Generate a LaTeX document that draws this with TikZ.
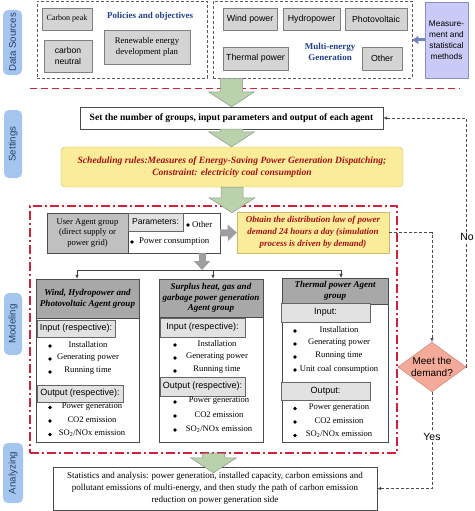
\documentclass[tikz,border=0pt]{standalone}
\usepackage{fontspec}
\setmainfont{Liberation Serif}
\setsansfont{Liberation Sans}
\usetikzlibrary{shapes.geometric, arrows.meta, calc}

\definecolor{sepred}{RGB}{206,34,58}
\definecolor{sideblue}{RGB}{164,198,238}
\definecolor{sidetext}{RGB}{38,62,104}
\definecolor{titleblue}{RGB}{32,64,140}
\definecolor{srcgray}{RGB}{212,212,212}
\definecolor{lavender}{RGB}{202,202,246}
\definecolor{lavdraw}{RGB}{140,140,200}
\definecolor{measarrow}{RGB}{112,132,184}
\definecolor{rulefill}{RGB}{250,236,152}
\definecolor{ruledraw}{RGB}{204,184,112}
\definecolor{rulered}{RGB}{168,18,22}
\definecolor{greenfill}{RGB}{186,210,172}
\definecolor{greendraw}{RGB}{138,152,138}
\definecolor{hdgray}{RGB}{168,168,168}
\definecolor{usergray}{RGB}{192,192,192}
\definecolor{iogray}{RGB}{226,226,226}
\definecolor{decfill}{RGB}{244,170,152}
\definecolor{decdraw}{RGB}{196,124,112}

\newcommand{\fsz}[2]{\fontsize{#1}{#2}\selectfont}
% green block arrow from tail to tip (vertical)
\newcommand{\garrow}[2]{%
  \filldraw[garrowst] let \p1=(#1), \p2=(#2) in
    (\x1-11pt,\y1) -- (\x1-11pt,\y2+15pt) -- (\x1-23pt,\y2+15pt) -- (\x1,\y2)
    -- (\x1+23pt,\y2+15pt) -- (\x1+11pt,\y2+15pt) -- (\x1+11pt,\y1) -- cycle;}

\begin{document}
\begin{tikzpicture}[
    x=1pt, y=-1pt,
    >={Latex[length=4pt,width=3.5pt]},
    sidelbl/.style={rounded corners=5pt, fill=sideblue, text=sidetext, rotate=90, inner sep=0pt, font=\sffamily\fsz{9.7}{11}},
    srcframe/.style={draw=black!65, densely dashed, line width=0.7pt},
    srcbox/.style={draw=black!50, fill=srcgray, inner sep=1pt, align=center, font=\sffamily\fsz{8.8}{11}},
    srcboxrm/.style={srcbox, font=\fsz{8.7}{10.5}},
    srctitle/.style={text=titleblue, align=center, font=\bfseries\fsz{9}{11.5}},
    flowbox/.style={draw=black!70, fill=white, align=center, font=\bfseries\fsz{9.6}{11}},
    rulebox/.style={draw=ruledraw, fill=rulefill, text=rulered, align=center, font=\bfseries\itshape\fsz{9.6}{11.5}},
    modframe/.style={draw=sepred, line width=1.1pt, dash pattern=on 9pt off 3pt on 2pt off 3pt},
    agentbox/.style={draw=black!70, fill=white},
    agenthd/.style={draw=black!70, fill=hdgray, align=center, font=\bfseries\itshape\fsz{9}{10.8}},
    iobox/.style={draw=black!60, fill=iogray, inner sep=1pt, font=\sffamily\fsz{9}{10}},
    bul/.style={circle, fill=black, inner sep=0pt, minimum size=3.6pt},
    itm/.style={inner sep=0pt, font=\fsz{8.6}{10}},
    decision/.style={diamond, draw=decdraw, fill=decfill, aspect=1.38, inner sep=0pt, align=center, minimum width=65pt, minimum height=47pt, font=\sffamily\fsz{10}{12}},
    loopline/.style={densely dashed, draw=black!70, line width=0.6pt},
    lbl/.style={fill=white, inner sep=1pt, font=\sffamily\fsz{10.5}{12}},
    garrowst/.style={fill=greenfill, draw=greendraw, line width=0.5pt},
    gblock/.style={line width=7pt, draw=black!38, -{Triangle[width=16pt,length=9pt]}}
]
    \useasboundingbox (0,0) rectangle (474,511);

    % Side labels
    \node[sidelbl, minimum width=65pt, minimum height=19pt] (lbldata) at (12.5,42.5) {Data Sources};
    \node[sidelbl, minimum width=68pt, minimum height=18pt] (lblset) at (13,144) {Settings};
    \node[sidelbl, minimum width=62pt, minimum height=18pt] (lblmod) at (13,324) {Modeling};
    \node[sidelbl, minimum width=60pt, minimum height=20pt] (lblana) at (13,473) {Analyzing};

    % Data sources: policies
    \node[srcframe, minimum width=170pt, minimum height=77pt] (polbox) at (122,39.5) {};
    \node[srcboxrm, minimum width=50pt, minimum height=22pt, font=\fsz{8}{10}] (peak) at (67,19) {Carbon peak};
    \node[srcbox, minimum width=48pt, minimum height=32pt, font=\sffamily\fsz{8.6}{11}] (neutral) at (68,56) {carbon\\neutral};
    \node[srcboxrm, minimum width=86pt, minimum height=34pt] (renew) at (147,47) {Renewable energy\\development plan};
    \node[srctitle] (poltitle) at (150,16) {Policies and objectives};

    % Data sources: multi-energy generation
    \node[srcframe, minimum width=199pt, minimum height=77pt] (genbox) at (312.5,39.5) {};
    \node[srcbox, minimum width=54pt, minimum height=22pt] (wind) at (250,19) {Wind power};
    \node[srcbox, minimum width=57pt, minimum height=22pt] (hydro) at (311.5,19) {Hydropower};
    \node[srcbox, minimum width=62pt, minimum height=22pt] (pv) at (376,19) {Photovoltaic};
    \node[srcbox, minimum width=65pt, minimum height=23pt] (thermsrc) at (255.5,58.5) {Thermal power};
    \node[srcbox, minimum width=40pt, minimum height=23pt] (othersrc) at (382,58.5) {Other};
    \node[srctitle] (gentitle) at (330,52) {Multi-energy\\Generation};

    \node[draw=lavdraw, fill=lavender, align=center, inner sep=0pt, minimum width=43pt, minimum height=76pt, font=\sffamily\fsz{8.3}{11}] (measure) at (446.5,40) {Measure-\\ment and\\statistical\\methods};
    \draw[line width=3pt, draw=measarrow, -{Triangle[width=8pt,length=6pt]}] (measure.west) -- (genbox.east |- measure.west);

    \draw[sepred, line width=1pt, dash pattern=on 7pt off 4pt] (30,88) -- (460,88);

    % Settings
    \node[flowbox, minimum width=303pt, minimum height=22pt] (setbox) at (231.5,118) {Set the number of groups, input parameters and output of each agent};
    \node[rulebox, rounded corners=4pt, minimum width=342pt, minimum height=40pt] (schedbox) at (232,167) {Scheduling rules:Measures of Energy-Saving Power Generation Dispatching;\\Constraint: electricity coal consumption};

    \garrow{genbox.south -| setbox.north}{setbox.north}
    \garrow{setbox.south}{schedbox.north}

    % Modeling
    \node[modframe, minimum width=367pt, minimum height=247pt] (modbox) at (213.5,329.5) {};
    \node[draw=black!70, fill=usergray, align=center, inner sep=0pt, minimum width=81pt, minimum height=40pt, font=\fsz{8.6}{10.5}] (user) at (87.5,233) {User Agent group\\(direct supply or\\power grid)};
    \node[draw=black!70, fill=white, minimum width=92pt, minimum height=40pt] (param) at (174,233) {};
    \node[iobox, minimum width=55pt, minimum height=18pt, font=\sffamily\fsz{8.6}{10}] (paramlbl) at (155.5,222) {Parameters:};
    \node[bul] (pb1) at (188,225) {};
    \node[itm, anchor=west, font=\fsz{8.8}{10}] (pt1) at (192,224) {Other};
    \node[bul] (pb2) at (132,242) {};
    \node[itm, anchor=west, font=\fsz{8.8}{10}] (pt2) at (139,242) {Power consumption};
    \node[rulebox, minimum width=152pt, minimum height=41pt, font=\bfseries\itshape\fsz{9}{12.2}] (obtain) at (313,232.5) {Obtain the distribution law of power\\demand 24 hours a day (simulation\\process is driven by demand)};

    \garrow{schedbox.south}{schedbox.south |- param.north}

    \coordinate (split) at (202,270);
    \coordinate (bw) at (77,270);
    \coordinate (bs) at (213,270);
    \coordinate (bt) at (341,270);
    \draw[gblock] (param.east) -- (obtain.west);
    \draw[gblock] (param.south -| split) -- (split);

    % Agent groups
    \node[agentbox, minimum width=103pt, minimum height=163pt] (windag) at (87.5,360.5) {};
    \node[agenthd, minimum width=103pt, minimum height=39pt] (windhd) at (87.5,298.5) {Wind, Hydropower and\\Photovoltaic Agent group};
    \node[iobox, minimum width=78pt, minimum height=17pt] (windin) at (76,328.5) {Input (respective):};
    \node[iobox, minimum width=86pt, minimum height=17pt] (windout) at (80,393.5) {Output (respective):};
    \foreach \t [count=\i] in {Installation, Generating power, Running time} {
        \node[bul] (wib\i) at (50,333+13*\i) {};
        \node[itm] (wit\i) at (88,332+13*\i) {\t};
    }
    \foreach \t [count=\i] in {Power generation, CO2 emission, SO\textsubscript{2}/NOx emission} {
        \node[bul] (wob\i) at (50,394+13.5*\i) {};
        \node[itm] (wot\i) at (92,393+13.5*\i) {\t};
    }

    \node[agentbox, minimum width=104pt, minimum height=163pt] (surpag) at (211,360.5) {};
    \node[agenthd, minimum width=104pt, minimum height=38pt] (surphd) at (211,298) {Surplus heat, gas and\\garbage power generation\\Agent group};
    \node[iobox, minimum width=85pt, minimum height=19pt] (surpin) at (202.5,327.5) {Input (respective):};
    \node[iobox, minimum width=85pt, minimum height=19pt] (surpout) at (202.5,386.5) {Output (respective):};
    \foreach \t [count=\i] in {Installation, Generating power, Running time} {
        \node[bul] (sib\i) at (175,332+13*\i) {};
        \node[itm] (sit\i) at (217,331+13*\i) {\t};
    }
    \foreach \t [count=\i] in {Power generation, CO2 emission, SO\textsubscript{2}/NOx emission} {
        \node[bul] (sob\i) at (175,388+14*\i) {};
        \node[itm] (sot\i) at (219,387+14*\i) {\t};
    }

    \node[agentbox, minimum width=106pt, minimum height=163pt] (thermag) at (335,360.5) {};
    \node[agenthd, minimum width=106pt, minimum height=24pt] (thermhd) at (335,291) {Thermal power Agent\\group};
    \node[iobox, minimum width=89pt, minimum height=19pt] (thermin) at (325.5,312.5) {Input:};
    \node[iobox, minimum width=89pt, minimum height=18pt] (thermout) at (325.5,391) {Output:};
    \foreach \t [count=\i] in {Installation, Generating power, Running time, Unit coal consumption} {
        \node[bul] (tib\i) at (295,318+13*\i) {};
        \node[itm] (tit\i) at (339,317+13*\i) {\t};
    }
    \foreach \t [count=\i] in {Power generation, CO2 emission, SO\textsubscript{2}/NOx emission} {
        \node[bul] (tob\i) at (295,395+13.5*\i) {};
        \node[itm] (tot\i) at (339,394+13.5*\i) {\t};
    }

    \draw[black!75, line width=0.6pt] (bw) -- (bt);
    \draw[black!75, line width=0.6pt, ->] (bw) -- (bw |- windhd.north);
    \draw[black!75, line width=0.6pt, ->] (bs) -- (bs |- surphd.north);
    \draw[black!75, line width=0.6pt, ->] (bt) -- (bt |- thermhd.north);

    % Decision loop
    \node[decision] (dec) at (432,367) {Meet the\\demand?};
    \coordinate (noturn) at (466,118);
    \draw[loopline, ->] (obtain.east) -- (obtain.east -| dec.north) -- (dec.north);
    \draw[loopline, ->] (dec.east) -| (noturn) -- (setbox.east);

    % Analyzing
    \node[draw=black!70, fill=white, align=center, minimum width=324pt, minimum height=43pt, font=\fsz{9}{12}] (stats) at (215,488.5) {Statistics and analysis: power generation, installed capacity, carbon emissions and\\pollutant emissions of multi-energy, and then study the path of carbon emission\\reduction on power generation side};
    \draw[loopline, ->] (dec.south) -- (dec.south |- stats.east) -- (stats.east);
    \node[lbl] (nolbl) at (467,237) {No};
    \node[lbl] (yeslbl) at (432,437) {Yes};

    \garrow{modbox.south}{$(stats.north)+(0,6)$}

\end{tikzpicture}
\end{document}
